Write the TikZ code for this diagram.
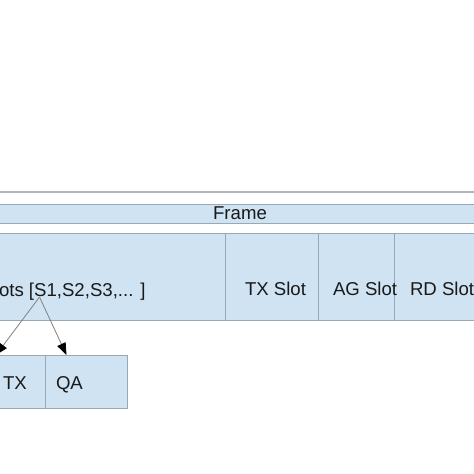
\documentclass[tikz,border=0pt]{standalone}
\usepackage{fontspec}
\setmainfont{Liberation Sans}
\usetikzlibrary{arrows.meta}
\definecolor{cellfill}{HTML}{CFE3F3}
\definecolor{celledge}{HTML}{9AA8B4}
\definecolor{topline}{HTML}{B4B4B4}
\definecolor{arrowgray}{HTML}{808080}
\begin{document}
\begin{tikzpicture}[x=1pt,y=-1pt,
  cell/.style={draw=celledge, fill=cellfill, line width=0.8pt, rectangle, inner sep=0pt, outer sep=0pt, anchor=north west},
  lbl/.style={inner sep=0pt, outer sep=0pt, anchor=base west, font=\fontsize{18.6}{22}\selectfont, text=black!90},
  conn/.style={draw=arrowgray, line width=0.8pt, -{Triangle[length=12pt,width=9pt,color=black]}}
]
\useasboundingbox (0,0) rectangle (474,474);
\clip (0,0) rectangle (474,474);
\fill[white] (0,0) rectangle (474,474);
% top gray line
\draw[topline, line width=1.2pt] (-10,192) -- (484,192);
% frame bar
\node[cell, minimum width=494pt, minimum height=19pt] (frame) at (-10,204) {};
\node[lbl, anchor=base] (framelbl) at (240,219) {Frame};
% slots row
\node[cell, minimum width=235pt, minimum height=87pt] (slots) at (-10,233) {};
\node[cell, minimum width=93pt, minimum height=87pt] (txslot) at (225,233) {};
\node[cell, minimum width=76pt, minimum height=87pt] (agslot) at (318,233) {};
\node[cell, minimum width=90pt, minimum height=87pt] (rdslot) at (394,233) {};
\node[lbl] (slotslbl) at (-17.5,296) {Slots [S1,S2,S3,... ]};
\node[lbl] (txslotlbl) at (245,295) {TX Slot};
\node[lbl] (agslotlbl) at (333,295) {AG Slot};
\node[lbl] (rdslotlbl) at (410,295) {RD Slot};
% bottom row
\node[cell, minimum width=55pt, minimum height=53pt] (tx) at (-10,355) {};
\node[cell, minimum width=82pt, minimum height=53pt] (qa) at (45,355) {};
\node[lbl] (txlbl) at (3,389) {TX};
\node[lbl] (qalbl) at (56,389) {QA};
% connectors
\coordinate (src) at (39.5,297);
\draw[conn] (src) -- ([xshift=-21.5pt]tx.north);
\draw[conn] (src) -- ([xshift=21.5pt]qa.north west);
\end{tikzpicture}
\end{document}
